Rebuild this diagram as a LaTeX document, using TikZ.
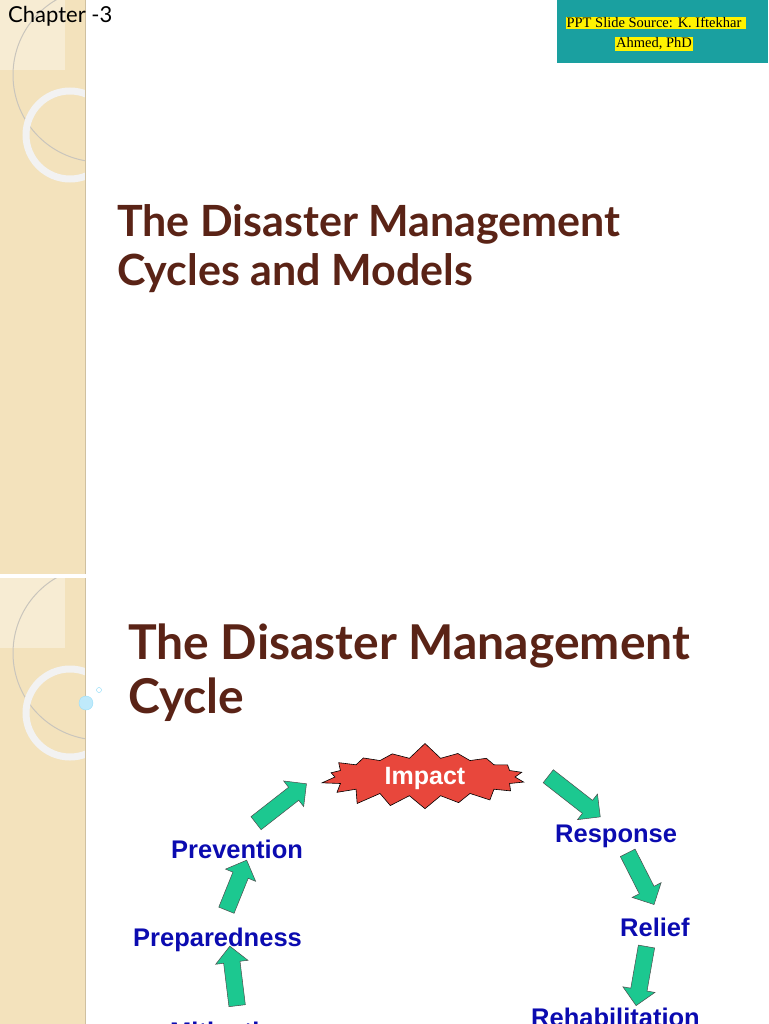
\documentclass[tikz,border=0pt]{standalone}
\usepackage{fontspec}
\setmainfont{Liberation Sans}
\newfontfamily\titlefont{Lato}
\newfontfamily\serfont{Liberation Serif}
\usetikzlibrary{shapes.arrows,shapes.symbols}
\definecolor{beige}{HTML}{F3E2BC}
\definecolor{brownt}{HTML}{5A2316}
\definecolor{teal}{HTML}{1AA0A0}
\definecolor{lblue}{HTML}{0B0BB0}
\definecolor{agreen}{HTML}{1CC890}
\definecolor{ired}{HTML}{E8473C}
\begin{document}
\begin{tikzpicture}[x=1pt,y=-1pt,
  lbl/.style={text=lblue,font=\fontsize{25.5}{25.5}\selectfont\bfseries,inner sep=0pt,anchor=west},
  barrow/.style={single arrow,draw=black!70,fill=agreen,line width=0.5pt,inner xsep=0pt,inner ysep=8pt,single arrow head extend=8pt,single arrow head indent=0pt,minimum height=#1},
  ttl/.style={anchor=west,inner sep=0pt,text=brownt,font=\titlefont\fontsize{#1}{#1}\selectfont\bfseries}]
\useasboundingbox (0,0) rectangle (768,1024);
\clip (0,0) rectangle (768,1024);
% left strips
\foreach \ya/\yb/\oy in {0/574/0,578/1024/578}{
  \fill[beige] (0,\ya) rectangle (85,\yb);
  \begin{scope}
  \clip (0,\ya) rectangle (85,\yb);
  \fill[white,opacity=0.35] (0,\oy) rectangle (65,\oy+70);
  \draw[white!70!beige!80!black,line width=1pt] (100,\oy+75) circle (87);
  \draw[white!90!gray,line width=7pt] (70,\oy+135) circle (44);
  \end{scope}
  \draw[beige!85!black,line width=0.8pt] (85,\ya) -- (85,\yb);
}
\node[circle,fill=cyan!25,draw=cyan!40,minimum size=14pt,inner sep=0pt] (b1) at (86,703) {};
\node[circle,draw=cyan!50,minimum size=5pt,inner sep=0pt] (b2) at (99,690) {};
\node[anchor=north west,inner sep=0pt,font=\titlefont\fontsize{22}{22}\selectfont] (ch) at (8,6) {Chapter -3};
% source box
\fill[teal] (557,0) rectangle (768,63);
\node[fill=yellow,inner sep=1pt,font=\serfont\fontsize{14.5}{14.5}\selectfont] (s1) at (656,23) {PPT Slide Source: K. Iftekhar\phantom{i}};
\node[fill=yellow,inner sep=1pt,font=\serfont\fontsize{14.5}{14.5}\selectfont] (s2) at (654,44) {Ahmed, PhD};
% titles
\node[ttl=43] (t1) at (117,224) {The Disaster Management};
\node[ttl=43] (t2) at (117,273) {Cycles and Models};
\node[ttl=48] (t3) at (128,646) {The Disaster Management};
\node[ttl=48] (t4) at (128,700) {Cycle};
% impact
\node[starburst,starburst points=18,starburst point height=16pt,random starburst=7,fill=ired,draw=black,line width=0.6pt,minimum width=212pt,minimum height=70pt,inner sep=0pt] (imp) at (425,777) {};
\node[text=white,font=\fontsize{25}{25}\selectfont\bfseries] (impt) at (425,778) {Impact};
% labels
\node[lbl] (prev) at (171,849) {Prevention};
\node[lbl] (prep) at (133,940) {Preparedness};
\node[lbl] (mit) at (170,1034) {Mitigation};
\node[lbl] (resp) at (555,836) {Response};
\node[lbl] (rel) at (620,927) {Relief};
\node[lbl] (reh) at (531,1017) {Rehabilitation};
% arrows
\node[barrow=64pt,rotate=38] (a1) at (278,806) {};
\node[barrow=54pt,rotate=68] (a2) at (235,889) {};
\node[barrow=60pt,rotate=97] (a3) at (234,980) {};
\node[barrow=66pt,rotate=-38] (a4) at (571,794) {};
\node[barrow=58pt,rotate=-63] (a5) at (639,875) {};
\node[barrow=60pt,rotate=-100] (a6) at (642,972) {};
\end{tikzpicture}
\end{document}
